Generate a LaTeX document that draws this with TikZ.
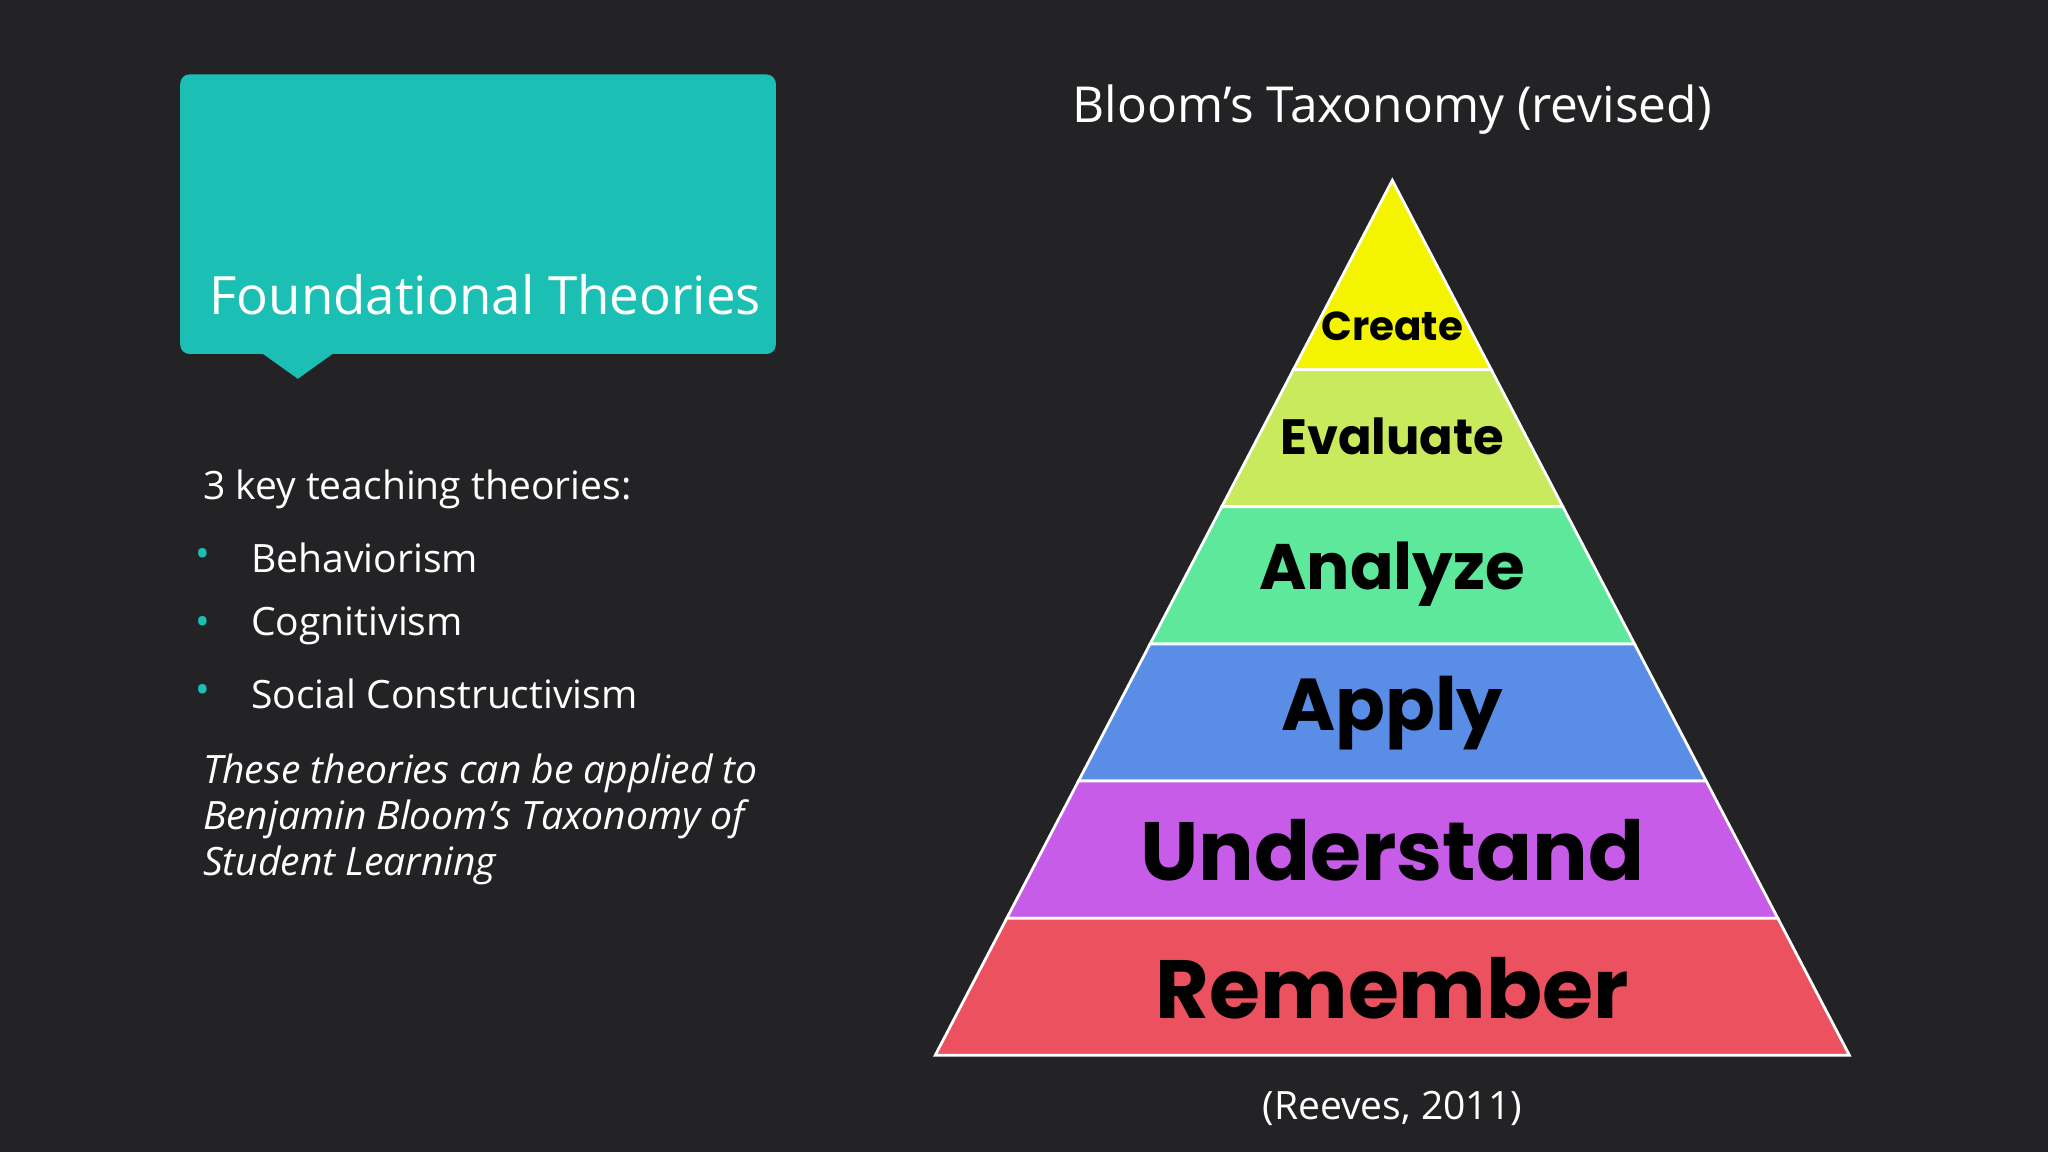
\documentclass[tikz,border=0pt]{standalone}
\usepackage{fontspec}
\setmainfont{Open Sans}
\newfontfamily\pyr{Poppins}
\begin{document}
\begin{tikzpicture}[x=0.01cm,y=-0.01cm]
\definecolor{bg}{HTML}{232325}
\definecolor{teal1}{HTML}{1CBFB4}
\definecolor{cY}{HTML}{F4F400}
\definecolor{cL}{HTML}{C8EA5C}
\definecolor{cG}{HTML}{5EE89C}
\definecolor{cB}{HTML}{5A8EE6}
\definecolor{cP}{HTML}{C65CE8}
\definecolor{cR}{HTML}{EC5160}
\tikzset{band/.style={draw=white,line width=0.6pt},
 plabel/.style={font=\pyr\bfseries,text=black,anchor=center},
 body/.style={text=white,anchor=west,font=\fontsize{8.5}{10}\selectfont}}
\fill[bg] (0,0) rectangle (1568,882);
\useasboundingbox (0,0) rectangle (1568,882);
% header box
\fill[teal1,rounded corners=2pt] (138,57) rectangle (594,271);
\fill[teal1] (200,270) -- (228,290) -- (256,270) -- cycle;
\node[text=white,anchor=west,font=\fontsize{11.5}{13}\selectfont] (ft) at (148,226) {Foundational Theories};
% body text
\node[body] (t0) at (143,375) {3 key teaching theories:};
\node[text=teal1,font=\fontsize{8.5}{10}\selectfont] (b1) at (155,427) {•};
\node[text=teal1,font=\fontsize{8.5}{10}\selectfont] (b2) at (155,479) {•};
\node[text=teal1,font=\fontsize{8.5}{10}\selectfont] (b3) at (155,531) {•};
\node[body] (t1) at (180,427) {Behaviorism};
\node[body] (t2) at (180,479) {Cognitivism};
\node[body] (t3) at (180,531) {Social Constructivism};
\node[body,anchor=north west,align=left,font=\fontsize{8.5}{10}\itshape] (t4) at (143,565) {These theories can be applied to\\Benjamin Bloom’s Taxonomy of\\Student Learning};
% title
\node[text=white,font=\fontsize{10.8}{13}\selectfont] (title) at (1066,84) {Bloom’s Taxonomy (revised)};
\node[text=white,font=\fontsize{8.5}{10}\selectfont] (ref) at (1066,849) {(Reeves, 2011)};
% pyramid
\def\hw#1{((#1-138)*0.52239)}
\fill[band,fill=cY] (1066,138) -- ({1066-\hw{283}},283) -- ({1066+\hw{283}},283) -- cycle;
\fill[band,fill=cL] ({1066-\hw{283}},283) -- ({1066-\hw{388}},388) -- ({1066+\hw{388}},388) -- ({1066+\hw{283}},283) -- cycle;
\fill[band,fill=cG] ({1066-\hw{388}},388) -- ({1066-\hw{493}},493) -- ({1066+\hw{493}},493) -- ({1066+\hw{388}},388) -- cycle;
\fill[band,fill=cB] ({1066-\hw{493}},493) -- ({1066-\hw{598}},598) -- ({1066+\hw{598}},598) -- ({1066+\hw{493}},493) -- cycle;
\fill[band,fill=cP] ({1066-\hw{598}},598) -- ({1066-\hw{703}},703) -- ({1066+\hw{703}},703) -- ({1066+\hw{598}},598) -- cycle;
\fill[band,fill=cR] ({1066-\hw{703}},703) -- ({1066-\hw{808}},808) -- ({1066+\hw{808}},808) -- ({1066+\hw{703}},703) -- cycle;
\node[plabel,font=\pyr\bfseries\fontsize{8.8}{10}\selectfont] (l1) at (1066,250) {Create};
\node[plabel,font=\pyr\bfseries\fontsize{10.8}{12}\selectfont] (l2) at (1066,334) {Evaluate};
\node[plabel,font=\pyr\bfseries\fontsize{14}{16}\selectfont] (l3) at (1066,440) {Analyze};
\node[plabel,font=\pyr\bfseries\fontsize{16}{18}\selectfont] (l4) at (1066,546) {Apply};
\node[plabel,font=\pyr\bfseries\fontsize{18}{20}\selectfont] (l5) at (1066,651) {Understand};
\node[plabel,font=\pyr\bfseries\fontsize{18}{20}\selectfont] (l6) at (1066,757) {Remember};
\end{tikzpicture}
\end{document}
